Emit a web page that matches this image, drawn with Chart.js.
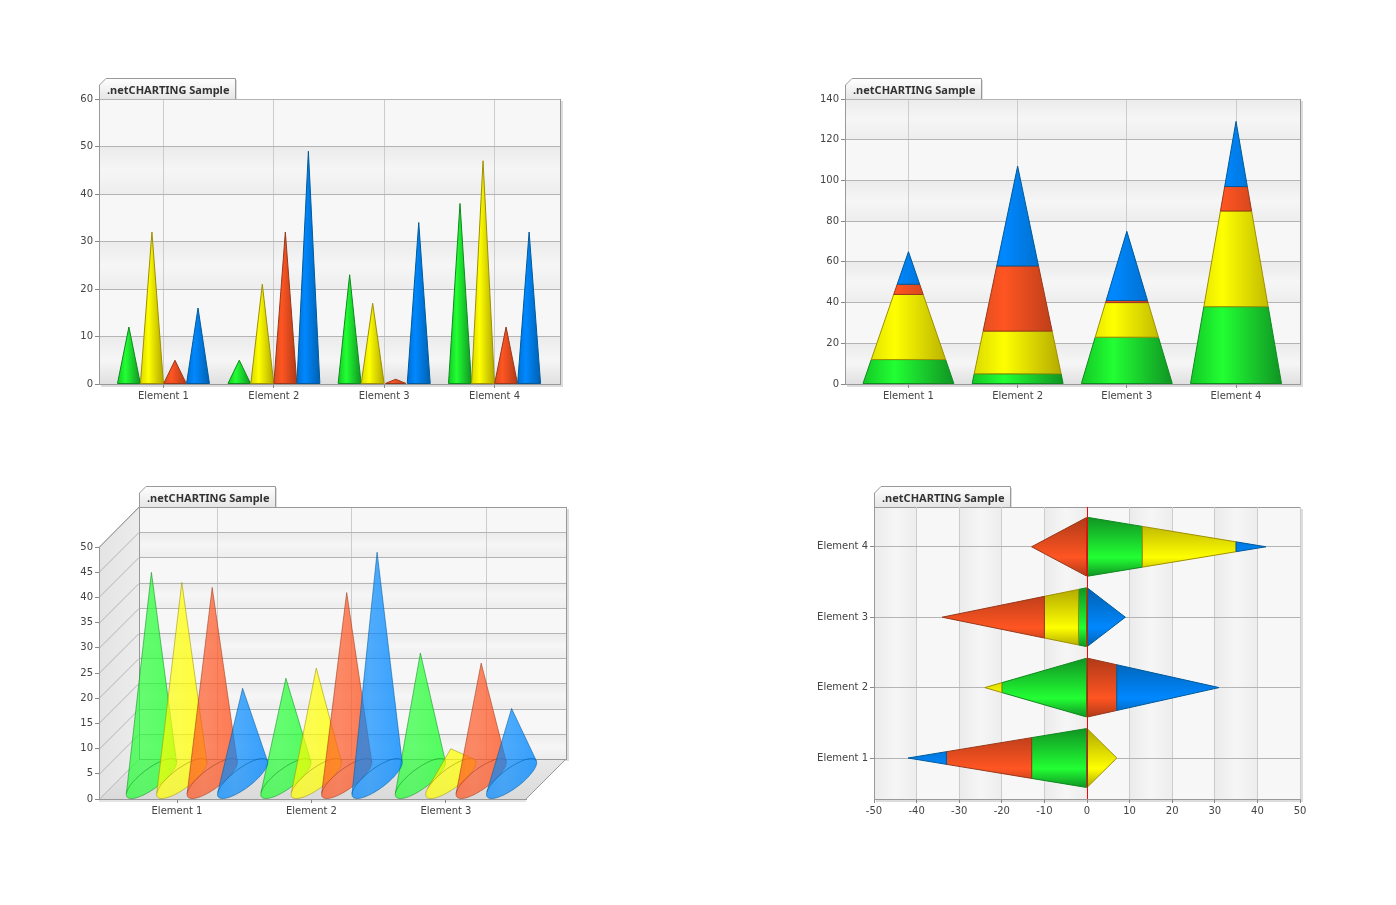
<!DOCTYPE html>
<html>
<head>
<meta charset="utf-8">
<script src="https://cdn.jsdelivr.net/npm/chart.js@4"></script>
<style>
  html, body { margin: 0; padding: 0; background: #fff; }
  canvas { position: absolute; }
</style>
</head>
<body>
<canvas id="chartGroup" style="left:20px;top:60px" width="600" height="370"></canvas>
<canvas id="chartStack" style="left:760px;top:60px" width="600" height="370"></canvas>
<canvas id="chart3d" style="left:20px;top:470px" width="600" height="370"></canvas>
<canvas id="chartSide" style="left:790px;top:470px" width="560" height="370"></canvas>
<script>
const titleText = '.netCHARTING Sample';
const categories4 = ['Element 1', 'Element 2', 'Element 3', 'Element 4'];
const categories3 = ['Element 1', 'Element 2', 'Element 3'];

const greenVals = [12, 5, 23, 38];
const yellowVals = [32, 21, 17, 47];
const orangeVals = [5, 32, 1, 12];
const blueVals = [16, 49, 34, 32];

const green3d = [41, 20, 25];
const yellow3d = [39, 22, 6];
const orange3d = [38, 37, 23];
const blue3d = [18, 45, 14];

const greenSide = [-13, -20, -2, 13];
const yellowSide = [7, -4, -8, 22];
const orangeSide = [-20, 7, -24, -13];
const blueSide = [-9, 24, 9, 7];

const palette = [
  { bright: '#22ff33', left: '#14c826', right: '#109424', line: '#0e8a1e', rgb: '34,255,51' },
  { bright: '#ffff00', left: '#d8d800', right: '#b0a800', line: '#a09000', rgb: '255,255,0' },
  { bright: '#ff5522', left: '#d84c20', right: '#b03a18', line: '#98381a', rgb: '255,85,34' },
  { bright: '#0088ff', left: '#0070d4', right: '#0060b0', line: '#005a9a', rgb: '0,136,255' }
];
const FONT = '"DejaVu Sans", sans-serif';
const TITLE_FONT = '"Noto Sans", sans-serif';

function makeSets(seriesList, indexAxis) {
  return seriesList.map(vals => ({
    data: vals.map((v, i) => indexAxis === 'y' ? { x: v, y: i } : { x: i, y: v }),
    backgroundColor: 'transparent',
    borderWidth: 0
  }));
}

function bandGradient(ctx, a, b, horizontal, last) {
  const g = horizontal ? ctx.createLinearGradient(a, 0, b, 0) : ctx.createLinearGradient(0, a, 0, b);
  g.addColorStop(0, '#ebebeb');
  g.addColorStop(0.5, '#f6f6f6');
  g.addColorStop(1, last ? '#e0e0e0' : '#ededed');
  return g;
}

function drawTab(ctx, x, bottom) {
  const w = 136, h = 21, c = 7;
  ctx.save();
  ctx.fillStyle = '#dcdcdc';
  ctx.fillRect(x + w, bottom - h + 2, 2, h - 2);
  const g = ctx.createLinearGradient(0, bottom - h, 0, bottom);
  g.addColorStop(0, '#ffffff');
  g.addColorStop(1, '#e6e6e6');
  ctx.beginPath();
  ctx.moveTo(x + 0.5, bottom);
  ctx.lineTo(x + 0.5, bottom - h + c);
  ctx.lineTo(x + c, bottom - h + 0.5);
  ctx.lineTo(x + w + 0.5, bottom - h + 0.5);
  ctx.lineTo(x + w + 0.5, bottom);
  ctx.fillStyle = g;
  ctx.fill();
  ctx.strokeStyle = '#999999';
  ctx.lineWidth = 1;
  ctx.stroke();
  ctx.fillStyle = '#333333';
  ctx.font = 'bold 11px ' + TITLE_FONT;
  ctx.textBaseline = 'alphabetic';
  ctx.fillText(titleText, x + 8, bottom - 5);
  ctx.restore();
}

// flat plot background with alternating soft bands, plus the tab
const plotBack = {
  id: 'plotBack',
  beforeDraw(chart) {
    const { ctx, chartArea: a } = chart;
    const horizontal = chart.options.indexAxis === 'y';
    const scale = horizontal ? chart.scales.x : chart.scales.y;
    ctx.save();
    ctx.fillStyle = '#dddddd';
    ctx.fillRect(a.left + 2, a.top + 2, a.width + 1, a.height + 1);
    ctx.fillStyle = '#f7f7f7';
    ctx.fillRect(a.left, a.top, a.width, a.height);
    scale.ticks.forEach((t, i) => {
      if (i % 2 || i === scale.ticks.length - 1) return;
      const p0 = scale.getPixelForValue(t.value);
      const p1 = scale.getPixelForValue(scale.ticks[i + 1].value);
      if (horizontal) {
        ctx.fillStyle = bandGradient(ctx, p0, p1, true, false);
        ctx.fillRect(p0, a.top, p1 - p0, a.height);
      } else {
        ctx.fillStyle = bandGradient(ctx, p1, p0, false, i === 0);
        ctx.fillRect(a.left, p1, a.width, p0 - p1);
      }
    });
    ctx.strokeStyle = '#999999';
    ctx.lineWidth = 1;
    ctx.strokeRect(a.left + 0.5, a.top + 0.5, a.width, a.height);
    drawTab(ctx, a.left, a.top);
    ctx.restore();
  }
};

function coneFill(ctx, c, half, horizontal, style) {
  if (horizontal) {
    const g = ctx.createLinearGradient(0, c - half, 0, c + half);
    g.addColorStop(0, style.right);
    g.addColorStop(0.68, style.bright);
    g.addColorStop(1, style.right);
    return g;
  }
  const g = ctx.createLinearGradient(c - half, 0, c + half, 0);
  g.addColorStop(0, style.left);
  g.addColorStop(0.35, style.bright);
  g.addColorStop(1, style.right);
  return g;
}

// turns the (invisible) bars into cones, using the positions the bar controller worked out
const coneBars = {
  id: 'coneBars',
  afterDatasetsDraw(chart, args, opts) {
    const { ctx } = chart;
    const horizontal = chart.options.indexAxis === 'y';
    const vScale = horizontal ? chart.scales.x : chart.scales.y;
    const zero = vScale.getPixelForValue(0);
    const metas = chart.data.datasets.map((d, i) => chart.getDatasetMeta(i));
    const endOf = bar => horizontal ? bar.x : bar.y;
    metas.forEach((meta, s) => {
      meta.data.forEach((bar, j) => {
        const end = endOf(bar);
        const dir = Math.sign(end - zero);
        let tip = end;
        if (opts.stacked) {
          metas.forEach(m => {
            const e = endOf(m.data[j]);
            if (Math.sign(e - zero) === dir && Math.abs(e - zero) > Math.abs(tip - zero)) tip = e;
          });
        }
        const c = horizontal ? bar.y : bar.x;
        const half = (horizontal ? bar.height : bar.width) / 2;
        const start = bar.base;
        const hw = p => half * (tip - p) / (tip - zero);
        const pts = [[start, -hw(start)], [start, hw(start)], [end, hw(end)], [end, -hw(end)]];
        ctx.beginPath();
        pts.forEach((q, k) => {
          const px = horizontal ? q[0] : c + q[1];
          const py = horizontal ? c + q[1] : q[0];
          if (k === 0) ctx.moveTo(px, py); else ctx.lineTo(px, py);
        });
        ctx.closePath();
        ctx.fillStyle = coneFill(ctx, c, half, horizontal, palette[s]);
        ctx.fill();
        ctx.strokeStyle = palette[s].line;
        ctx.lineWidth = 1;
        ctx.stroke();
      });
    });
    if (opts.zeroLine) {
      const a = chart.chartArea;
      ctx.save();
      ctx.strokeStyle = '#ff0000';
      ctx.beginPath();
      ctx.moveTo(Math.round(zero) + 0.5, a.top);
      ctx.lineTo(Math.round(zero) + 0.5, a.bottom);
      ctx.stroke();
      ctx.restore();
    }
  }
};

const DEPTH = 40;

// walls and floor of the 3d box, from the y scale ticks
const box3d = {
  id: 'box3d',
  beforeDraw(chart) {
    const { ctx, chartArea: a, scales } = chart;
    const y = scales.y, x = scales.x;
    const d = DEPTH;
    ctx.save();
    ctx.fillStyle = '#dddddd';
    ctx.fillRect(a.left + d + 2, a.top - d + 2, a.width + 1, a.height);
    ctx.fillStyle = '#f7f7f7';
    ctx.fillRect(a.left + d, a.top - d, a.width, a.height);
    y.ticks.forEach((t, i) => {
      if (i % 2 || i === y.ticks.length - 1) return;
      const p0 = y.getPixelForValue(t.value) - d;
      const p1 = y.getPixelForValue(y.ticks[i + 1].value) - d;
      ctx.fillStyle = bandGradient(ctx, p1, p0, false, false);
      ctx.fillRect(a.left + d, p1, a.width, p0 - p1);
    });
    const wall = ctx.createLinearGradient(a.left, 0, a.left + d, 0);
    wall.addColorStop(0, '#e4e4e4');
    wall.addColorStop(1, '#ececec');
    ctx.beginPath();
    ctx.moveTo(a.left, a.top);
    ctx.lineTo(a.left + d, a.top - d);
    ctx.lineTo(a.left + d, a.bottom - d);
    ctx.lineTo(a.left, a.bottom);
    ctx.closePath();
    ctx.fillStyle = wall;
    ctx.fill();
    const floor = ctx.createLinearGradient(0, a.bottom - d, 0, a.bottom);
    floor.addColorStop(0, '#e8e8e8');
    floor.addColorStop(1, '#dadada');
    ctx.beginPath();
    ctx.moveTo(a.left, a.bottom);
    ctx.lineTo(a.left + d, a.bottom - d);
    ctx.lineTo(a.right + d, a.bottom - d);
    ctx.lineTo(a.right, a.bottom);
    ctx.closePath();
    ctx.fillStyle = floor;
    ctx.fill();
    ctx.lineWidth = 1;
    ctx.strokeStyle = '#cccccc';
    x.ticks.forEach(t => {
      const px = Math.round(x.getPixelForValue(t.value)) + d + 0.5;
      ctx.beginPath();
      ctx.moveTo(px, a.top - d);
      ctx.lineTo(px, a.bottom - d);
      ctx.stroke();
    });
    ctx.strokeStyle = '#b4b4b4';
    y.ticks.forEach(t => {
      const py = Math.round(y.getPixelForValue(t.value)) + 0.5;
      ctx.beginPath();
      ctx.moveTo(a.left, py);
      ctx.lineTo(a.left + d, py - d);
      ctx.lineTo(a.right + d, py - d);
      ctx.stroke();
    });
    ctx.strokeStyle = '#999999';
    ctx.strokeRect(a.left + d + 0.5, a.top - d + 0.5, a.width, a.height);
    ctx.beginPath();
    ctx.moveTo(a.left + 0.5, a.top);
    ctx.lineTo(a.left + d, a.top - d);
    ctx.moveTo(a.right, a.bottom);
    ctx.lineTo(a.right + d, a.bottom - d);
    ctx.stroke();
    ctx.fillStyle = '#e4e4e4';
    ctx.fillRect(a.left, a.bottom + 1, a.width, 2);
    drawTab(ctx, a.left + d, a.top - d);
    ctx.restore();
  }
};

// see-through cones standing on the floor, base circle sheared by the box depth
const cones3d = {
  id: 'cones3d',
  afterDatasetsDraw(chart) {
    const { ctx } = chart;
    const d = DEPTH;
    chart.data.datasets.forEach((ds, s) => {
      const style = palette[s];
      chart.getDatasetMeta(s).data.forEach(bar => {
        const cx = bar.x + d / 2;
        const cy = bar.base - d / 2;
        const tipY = bar.y - d / 2;
        const r = bar.width / 2;
        const rim = [];
        for (let k = 0; k < 120; k++) {
          const t = k / 120 * Math.PI * 2;
          rim.push([cx + r * Math.cos(t) + d / 2 * Math.sin(t), cy - d / 2 * Math.sin(t)]);
        }
        let iMin = 0, iMax = 0, aMin = Infinity, aMax = -Infinity;
        rim.forEach((p, k) => {
          const ang = Math.atan2(p[0] - cx, p[1] - tipY);
          if (ang < aMin) { aMin = ang; iMin = k; }
          if (ang > aMax) { aMax = ang; iMax = k; }
        });
        // walk the rim from one tangent to the other both ways, lower arc closes the body
        const walk = (from, to) => {
          const out = [];
          for (let k = from; ; k = (k + 1) % rim.length) {
            out.push(rim[k]);
            if (k === to) break;
          }
          return out;
        };
        const arcA = walk(iMin, iMax), arcB = walk(iMax, iMin);
        const avgY = arc => arc.reduce((n, p) => n + p[1], 0) / arc.length;
        const lower = avgY(arcA) > avgY(arcB) ? arcA : arcB;
        const upper = lower === arcA ? arcB : arcA;
        const g = ctx.createLinearGradient(cx - 25, 0, cx + 25, 0);
        g.addColorStop(0, 'rgba(' + style.rgb + ',0.72)');
        g.addColorStop(0.35, 'rgba(' + style.rgb + ',0.68)');
        g.addColorStop(1, 'rgba(' + style.rgb + ',0.78)');
        ctx.beginPath();
        ctx.moveTo(cx, tipY);
        lower.forEach(p => ctx.lineTo(p[0], p[1]));
        ctx.closePath();
        ctx.fillStyle = g;
        ctx.fill();
        ctx.strokeStyle = style.line;
        ctx.globalAlpha = 0.55;
        ctx.lineWidth = 1;
        ctx.stroke();
        ctx.beginPath();
        upper.forEach((p, k) => k ? ctx.lineTo(p[0], p[1]) : ctx.moveTo(p[0], p[1]));
        ctx.stroke();
        ctx.globalAlpha = 1;
      });
    });
  }
};

function valueAxis(min, max, step, extra) {
  return Object.assign({
    type: 'linear', min, max,
    ticks: { stepSize: step, color: '#444', padding: 2, font: { family: FONT, size: 10 }, autoSkip: false, maxRotation: 0 },
    grid: { color: '#b4b4b4', tickColor: '#888', tickLength: 4, lineWidth: 1, offset: false },
    border: { color: '#999' }
  }, extra);
}

function categoryAxis(labels, min, max, extra) {
  return Object.assign({
    type: 'linear', min, max, offset: false,
    afterBuildTicks(scale) { scale.ticks = labels.map((l, i) => ({ value: i })); },
    ticks: {
      callback: v => labels[v], color: '#444', padding: 2,
      font: { family: FONT, size: 10 }, autoSkip: false, maxRotation: 0
    },
    grid: { color: '#cccccc', tickColor: '#888', tickLength: 4, lineWidth: 1, offset: false },
    border: { color: '#999' }
  }, extra);
}

function baseOptions(padTop, padRight, extra) {
  return Object.assign({
    responsive: false,
    animation: false,
    layout: { padding: { left: 0, top: padTop, right: padRight, bottom: 0 } },
    plugins: { legend: { display: false }, tooltip: { enabled: false } }
  }, extra);
}

Chart.defaults.font.family = FONT;

new Chart(document.getElementById('chartGroup'), {
  type: 'bar',
  data: { datasets: makeSets([greenVals, yellowVals, orangeVals, blueVals], 'x') },
  plugins: [plotBack, coneBars],
  options: (() => {
    const o = baseOptions(39, 60);
    o.categoryPercentage = 0.835;
    o.barPercentage = 1;
    o.plugins.coneBars = { stacked: false };
    o.scales = {
      x: categoryAxis(categories4, -0.584, 3.593, { afterFit: s => { s.height = 46; } }),
      y: valueAxis(0, 60, 10, { afterFit: s => { s.width = 79; } })
    };
    return o;
  })()
});

new Chart(document.getElementById('chartStack'), {
  type: 'bar',
  data: { datasets: makeSets([greenVals, yellowVals, orangeVals, blueVals], 'x') },
  plugins: [plotBack, coneBars],
  options: (() => {
    const o = baseOptions(39, 60);
    o.categoryPercentage = 0.835;
    o.barPercentage = 1;
    o.plugins.coneBars = { stacked: true };
    o.scales = {
      x: categoryAxis(categories4, -0.581, 3.586, { stacked: true, afterFit: s => { s.height = 46; } }),
      y: valueAxis(0, 140, 20, { stacked: true, afterFit: s => { s.width = 85; } })
    };
    return o;
  })()
});

new Chart(document.getElementById('chart3d'), {
  type: 'bar',
  data: { datasets: makeSets([green3d, yellow3d, orange3d, blue3d], 'x') },
  plugins: [box3d, cones3d],
  options: (() => {
    const o = baseOptions(77, 94);
    o.categoryPercentage = 0.904;
    o.barPercentage = 1;
    o.scales = {
      x: categoryAxis(categories3, -0.58, 2.595, { afterFit: s => { s.height = 41; } }),
      y: valueAxis(0, 50, 5, { afterFit: s => { s.width = 79; } })
    };
    o.scales.x.grid = Object.assign({}, o.scales.x.grid, { drawOnChartArea: false });
    o.scales.y.grid = Object.assign({}, o.scales.y.grid, { drawOnChartArea: false });
    return o;
  })()
});

new Chart(document.getElementById('chartSide'), {
  type: 'bar',
  data: { datasets: makeSets([greenSide, yellowSide, orangeSide, blueSide], 'y') },
  plugins: [plotBack, coneBars],
  options: (() => {
    const o = baseOptions(37, 50, { indexAxis: 'y' });
    o.categoryPercentage = 0.838;
    o.barPercentage = 1;
    o.plugins.coneBars = { stacked: true, zeroLine: true };
    o.scales = {
      x: valueAxis(-50, 50, 10, { stacked: true, afterFit: s => { s.height = 41; } }),
      y: categoryAxis(categories4, -0.582, 3.565, { stacked: true, afterFit: s => { s.width = 84; } })
    };
    o.scales.x.grid = Object.assign({}, o.scales.x.grid, { color: '#cccccc' });
    o.scales.y.grid = Object.assign({}, o.scales.y.grid, { color: '#b4b4b4' });
    return o;
  })()
});
</script>
</body>
</html>
